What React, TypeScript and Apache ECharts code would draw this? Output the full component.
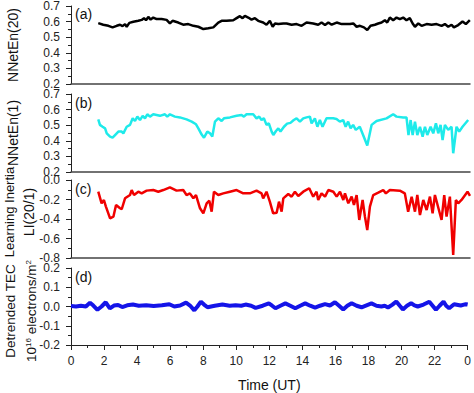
import React, { useEffect, useRef } from "react";
import * as echarts from "echarts";

// Panel (a) NNetEn(20)
const timeA = [1.64, 1.94, 2.25, 2.5, 2.75, 2.95, 3.1, 3.25, 3.35, 3.51, 3.75, 4.05, 4.25, 4.39, 4.51, 4.65, 4.79, 4.95, 5.15, 5.45, 5.75, 5.95, 6.11, 6.45, 6.75, 7.05, 7.36, 7.66, 7.96, 8.26, 8.56, 8.86, 9.06, 9.36, 9.76, 9.96, 10.16, 10.32, 10.46, 10.66, 10.86, 11.06, 11.26, 11.56, 11.76, 11.96, 12.13, 12.27, 12.47, 12.77, 12.97, 13.27, 13.57, 13.87, 14.17, 14.57, 14.87, 15.07, 15.28, 15.48, 15.68, 15.98, 16.28, 16.78, 16.98, 17.18, 17.38, 17.62, 17.82, 18.02, 18.28, 18.48, 18.68, 18.88, 19.02, 19.18, 19.38, 19.58, 19.78, 19.98, 20.18, 20.38, 20.55, 20.69, 20.89, 21.09, 21.39, 21.69, 21.99, 22.29, 22.49, 22.69, 22.89, 23.03, 23.29, 23.55, 23.75, 23.99];
const valA = [0.59, 0.58, 0.573, 0.563, 0.573, 0.58, 0.571, 0.584, 0.567, 0.592, 0.599, 0.605, 0.611, 0.622, 0.609, 0.63, 0.613, 0.626, 0.616, 0.616, 0.611, 0.588, 0.605, 0.594, 0.58, 0.584, 0.573, 0.567, 0.552, 0.557, 0.563, 0.594, 0.605, 0.605, 0.609, 0.622, 0.635, 0.622, 0.637, 0.626, 0.613, 0.622, 0.605, 0.594, 0.58, 0.605, 0.567, 0.588, 0.584, 0.588, 0.588, 0.58, 0.584, 0.573, 0.594, 0.588, 0.58, 0.594, 0.578, 0.594, 0.58, 0.594, 0.584, 0.584, 0.588, 0.567, 0.573, 0.563, 0.546, 0.573, 0.58, 0.588, 0.594, 0.609, 0.594, 0.626, 0.609, 0.626, 0.616, 0.626, 0.609, 0.622, 0.588, 0.567, 0.588, 0.573, 0.584, 0.58, 0.584, 0.573, 0.584, 0.567, 0.58, 0.563, 0.578, 0.601, 0.584, 0.609];

// Panel (b) NNetEn(1)
const timeB = [1.64, 1.74, 1.9, 2.05, 2.15, 2.35, 2.5, 2.65, 2.85, 3.05, 3.15, 3.35, 3.55, 3.71, 3.85, 3.99, 4.15, 4.31, 4.45, 4.59, 4.75, 4.95, 5.35, 5.65, 5.79, 5.95, 6.25, 6.55, 6.95, 7.26, 7.52, 7.66, 7.86, 8.0, 8.2, 8.36, 8.5, 8.66, 8.86, 9.06, 9.2, 9.56, 9.96, 10.26, 10.4, 10.56, 10.96, 11.16, 11.32, 11.46, 11.6, 11.76, 11.9, 12.07, 12.17, 12.33, 12.47, 12.6, 12.81, 13.0, 13.2, 13.4, 13.57, 13.77, 13.97, 14.17, 14.37, 14.47, 14.67, 14.82, 14.97, 15.13, 15.37, 15.77, 15.97, 16.17, 16.37, 16.52, 16.67, 16.82, 16.97, 17.13, 17.37, 17.57, 17.82, 18.08, 18.38, 18.98, 19.38, 19.58, 19.98, 20.18, 20.3, 20.43, 20.55, 20.69, 20.83, 20.99, 21.15, 21.29, 21.43, 21.63, 21.79, 21.95, 22.09, 22.23, 22.35, 22.49, 22.69, 22.89, 22.99, 23.19, 23.35, 23.55, 23.89];
const valB = [0.537, 0.502, 0.49, 0.48, 0.448, 0.427, 0.42, 0.437, 0.459, 0.459, 0.448, 0.49, 0.502, 0.544, 0.527, 0.555, 0.533, 0.56, 0.544, 0.57, 0.555, 0.57, 0.56, 0.57, 0.555, 0.57, 0.555, 0.55, 0.537, 0.523, 0.506, 0.48, 0.44, 0.42, 0.459, 0.448, 0.427, 0.523, 0.544, 0.527, 0.544, 0.55, 0.56, 0.565, 0.555, 0.57, 0.57, 0.544, 0.555, 0.533, 0.544, 0.502, 0.512, 0.459, 0.437, 0.463, 0.48, 0.459, 0.49, 0.51, 0.515, 0.533, 0.544, 0.523, 0.544, 0.55, 0.555, 0.512, 0.544, 0.49, 0.533, 0.49, 0.544, 0.544, 0.54, 0.523, 0.533, 0.49, 0.523, 0.48, 0.502, 0.47, 0.49, 0.437, 0.37, 0.502, 0.527, 0.544, 0.57, 0.555, 0.55, 0.55, 0.437, 0.533, 0.437, 0.523, 0.437, 0.49, 0.427, 0.49, 0.437, 0.49, 0.448, 0.512, 0.448, 0.502, 0.405, 0.502, 0.47, 0.49, 0.32, 0.49, 0.459, 0.49, 0.533];

// Panel (c) Learning Inertia LI(20/1)
const timeC = [1.64, 1.84, 1.98, 2.1, 2.35, 2.55, 2.71, 2.95, 3.05, 3.25, 3.55, 3.65, 3.79, 4.05, 4.25, 4.55, 4.95, 5.25, 5.55, 5.95, 6.35, 6.75, 6.95, 7.15, 7.36, 7.52, 7.76, 7.96, 8.16, 8.32, 8.46, 8.6, 8.86, 9.16, 9.56, 9.96, 10.36, 10.76, 11.16, 11.46, 11.56, 11.76, 11.96, 12.16, 12.37, 12.51, 12.67, 12.77, 13.07, 13.27, 13.47, 13.67, 13.97, 14.33, 14.57, 14.77, 14.87, 15.07, 15.28, 15.48, 15.78, 15.98, 16.18, 16.38, 16.48, 16.68, 16.88, 17.02, 17.18, 17.34, 17.54, 17.68, 17.82, 17.98, 18.18, 18.48, 18.78, 18.94, 19.18, 19.78, 20.08, 20.28, 20.49, 20.69, 20.83, 20.99, 21.19, 21.39, 21.59, 21.75, 21.89, 22.29, 22.45, 22.59, 22.79, 22.99, 23.15, 23.29, 23.49, 23.85, 24.0];
const valC = [-0.12, -0.239, -0.205, -0.273, -0.393, -0.376, -0.256, -0.29, -0.3, -0.188, -0.154, -0.103, -0.154, -0.12, -0.137, -0.109, -0.103, -0.12, -0.103, -0.075, -0.109, -0.103, -0.154, -0.137, -0.188, -0.154, -0.29, -0.342, -0.239, -0.212, -0.325, -0.12, -0.154, -0.137, -0.12, -0.103, -0.137, -0.137, -0.109, -0.137, -0.188, -0.12, -0.222, -0.342, -0.335, -0.222, -0.325, -0.188, -0.144, -0.171, -0.12, -0.164, -0.12, -0.085, -0.171, -0.12, -0.205, -0.137, -0.171, -0.103, -0.12, -0.171, -0.12, -0.205, -0.137, -0.239, -0.171, -0.256, -0.154, -0.41, -0.205, -0.376, -0.513, -0.273, -0.154, -0.13, -0.103, -0.137, -0.103, -0.109, -0.137, -0.325, -0.171, -0.325, -0.154, -0.359, -0.205, -0.308, -0.171, -0.342, -0.154, -0.41, -0.154, -0.376, -0.171, -0.769, -0.205, -0.239, -0.205, -0.12, -0.164];

// Panel (d) Detrended TEC
const timeD = [0, 0.3, 0.6, 0.9, 1.15, 1.35, 1.6, 1.85, 2.1, 2.35, 2.6, 2.85, 3.1, 3.4, 3.75, 4.1, 4.55, 5.0, 5.5, 5.95, 6.25, 6.6, 6.96, 7.2, 7.46, 7.65, 7.86, 8.05, 8.26, 8.7, 9.16, 9.6, 9.96, 10.3, 10.56, 10.9, 11.17, 11.6, 11.97, 12.17, 12.37, 12.67, 12.97, 13.27, 13.57, 13.87, 14.17, 14.47, 14.77, 15.07, 15.37, 15.67, 15.97, 16.22, 16.47, 16.72, 16.98, 17.28, 17.58, 17.88, 18.18, 18.48, 18.78, 18.98, 19.18, 19.45, 19.68, 19.88, 20.08, 20.33, 20.58, 20.78, 20.98, 21.33, 21.68, 21.88, 22.08, 22.3, 22.54, 22.7, 22.88, 23.18, 23.58, 23.89, 24.0];
const valD = [0.002, 0.0, 0.004, 0.0, 0.02, 0.005, -0.017, 0.0, 0.022, -0.01, 0.005, 0.008, -0.003, 0.006, 0.01, 0.004, 0.006, 0.003, 0.006, 0.012, 0.0, 0.005, 0.02, 0.005, -0.02, 0.0, 0.025, 0.01, -0.004, 0.004, 0.01, 0.004, 0.006, 0.004, 0.01, 0.004, -0.007, 0.004, 0.016, 0.004, -0.009, 0.004, 0.016, 0.004, -0.009, 0.004, 0.016, 0.004, -0.006, 0.004, 0.012, 0.005, 0.022, 0.004, -0.015, 0.004, 0.017, 0.004, -0.004, 0.006, 0.016, 0.004, 0.0, 0.004, -0.005, 0.01, 0.026, 0.005, -0.015, 0.004, 0.017, 0.006, 0.0, 0.01, 0.025, 0.004, -0.017, 0.004, 0.025, 0.004, -0.009, 0.012, 0.005, 0.012, 0.01];

const panelLabels = ["(a)", "(b)", "(c)", "(d)"];
const yMins = [0.2, 0.2, -0.8, -0.2];
const yMaxs = [0.7, 0.7, 0.0, 0.2];
const yIntervals = [0.1, 0.1, 0.2, 0.1];
const xTicks = { min: 0, max: 24, interval: 2 };

const FONT = "Arial, 'Liberation Sans', sans-serif";

export default function App() {
  const ref = useRef<HTMLDivElement>(null);
  useEffect(() => {
    document.body.style.margin = "0";
    const chart = echarts.init(ref.current!, null, { renderer: "svg" });
    const tops = [5, 94, 180, 268];
    const heights = [79, 78, 78, 78];
    const grids = tops.map((t, i) => ({ left: 71, right: 4, top: t, height: heights[i] }));
    const xAxes = tops.map((_, i) => {
      const last = i === 3;
      return {
        gridIndex: i,
        type: "value",
        min: xTicks.min,
        max: xTicks.max,
        interval: xTicks.interval,
        axisLine: { show: true, onZero: false, lineStyle: { color: last ? "#222" : "#444", width: last ? 1 : 1.5 } },
        axisTick: { show: last, inside: false, length: 5, lineStyle: { color: "#222" } },
        minorTick: { show: last, splitNumber: 2, length: 3, lineStyle: { color: "#222" } },
        axisLabel: {
          show: last,
          fontSize: 12,
          color: "#222",
          fontFamily: FONT,
          margin: 10,
          formatter: (v: number) => (v === 24 ? "0" : String(v)),
        },
        splitLine: { show: false },
        name: last ? "Time (UT)" : "",
        nameLocation: "middle",
        nameGap: 33,
        nameTextStyle: { fontSize: 14, color: "#111", fontFamily: FONT },
      };
    });
    const yAxes = tops.map((_, i) => ({
      gridIndex: i,
      type: "value",
      min: yMins[i],
      max: yMaxs[i],
      interval: yIntervals[i],
      axisLine: { show: true, onZero: false, lineStyle: { color: "#222", width: 1 } },
      axisTick: { show: true, inside: false, length: 5, lineStyle: { color: "#222" } },
      minorTick: { show: true, splitNumber: 2, length: 3, lineStyle: { color: "#222" } },
      axisLabel: {
        fontSize: 12,
        color: "#222",
        fontFamily: FONT,
        margin: 11,
        showMinLabel: true,
        showMaxLabel: true,
        formatter: (v: number) => v.toFixed(1),
      },
      splitLine: { show: false },
    }));
    const mk = (t: number[], v: number[]) => t.map((x, k) => [x, v[k]]);
    const series = [
      { data: mk(timeA, valA), color: "#000000", width: 2.5 },
      { data: mk(timeB, valB), color: "#1EEAEA", width: 2.5 },
      { data: mk(timeC, valC), color: "#F00000", width: 2.5 },
      { data: mk(timeD, valD), color: "#1414E8", width: 4 },
    ].map((s, i) => ({
      type: "line",
      xAxisIndex: i,
      yAxisIndex: i,
      data: s.data,
      symbol: "none",
      lineStyle: { color: s.color, width: s.width },
      itemStyle: { color: s.color },
    }));
    const txt = (x: number, y: number, text: string, size: number, extra: any = {}) => ({
      type: "text",
      x,
      y,
      rotation: Math.PI / 2,
      style: {
        text,
        fontSize: size,
        fontFamily: FONT,
        fill: "#111",
        align: "center",
        verticalAlign: "middle",
        ...extra,
      },
    });
    const graphic = [
      ...panelLabels.map((l, i) => ({
        type: "text",
        left: 75,
        top: tops[i] + 2,
        style: { text: l, fontSize: 14, fontFamily: FONT, fill: "#111" },
      })),
      txt(13, 45, "NNetEn(20)", 14),
      txt(13, 133, "NNetEn(1)", 14),
      txt(9, 212, "Learning Inertia", 13),
      txt(29, 212, "LI(20/1)", 14),
      txt(10, 311, "Detrended TEC", 13.5),
      txt(31, 311, "10{sup|16} electrons/m{sup|2}", 13.5, {
        rich: { sup: { fontSize: 8, verticalAlign: "top", fontFamily: FONT, fill: "#111" } },
      }),
    ];
    chart.setOption({
      animation: false,
      backgroundColor: "#ffffff",
      grid: grids,
      xAxis: xAxes,
      yAxis: yAxes,
      series,
      graphic,
    });
    return () => chart.dispose();
  }, []);
  return <div ref={ref} style={{ width: 474, height: 393 }} />;
}
